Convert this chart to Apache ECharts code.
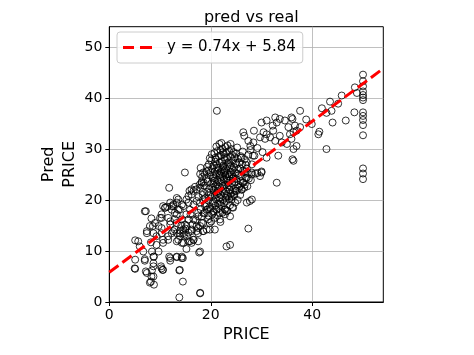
<!DOCTYPE html>
<html>
<head>
<meta charset="utf-8">
<script src="https://cdn.jsdelivr.net/npm/echarts@6/dist/echarts.min.js"></script>
<style>
html,body{margin:0;padding:0;background:#fff;}
#chart{width:474px;height:355px;}
</style>
</head>
<body>
<div id="chart"></div>
<script>
// ---- data (real PRICE, predicted PRICE) ----
const xTicks = [0, 20, 40];
const yTicks = [0, 10, 20, 30, 40, 50];
const slope = 0.74;
const intercept = 5.84;
const axisMax = 54;

const cappedPoints = [[50,44.6],[50,43.3],[50,42.3],[50,41.3],[50,40.6],[50,40.1],[50,39.6],[50,37.2],[50,36.5],[50,35.7],[50,34.7],[50,32.7],[50,26.2],[50,25.2],[50,24.1]];

const upperPoints = [[48.4,42.1],[48.8,41.0],[48.3,37.2],[46.6,35.6],[45.8,40.5],[45.1,38.9],[43.8,37.5],[43.5,39.3],[44.0,35.2],[42.8,37.1],[41.9,38.0],[41.2,32.9],[41.4,33.4],[42.8,30.0],[39.9,34.9],[38.8,35.8],[37.6,37.5],[37.6,34.3],[36.1,35.9],[36.6,34.6],[36.9,33.6],[35.9,36.2],[35.3,34.3],[34.6,35.6],[35.6,32.9],[33.6,35.9],[33.0,35.2],[32.7,36.2],[32.2,34.6],[32.3,33.6],[31.0,35.6],[30.0,35.2],[31.0,32.9],[30.4,33.3],[33.6,32.6],[36.3,33.3],[36.9,30.6],[36.3,30.0],[36.1,28.0],[36.3,27.7],[35.9,32.0],[35.0,31.0],[34.0,31.3],[32.7,31.6],[31.7,32.3],[30.7,32.0],[29.7,32.3],[28.5,33.6],[26.4,33.3],[26.6,32.6],[27.4,31.6],[28.4,31.3],[33.3,28.7],[31.0,28.3],[30.0,25.4],[29.7,24.7],[33.0,23.4],[28.6,28.7],[28.3,28.7],[27.1,27.4],[28.1,25.0],[28.8,25.2],[29.2,30.2],[27.8,30.6],[30.2,29.4]];

const blobPoints = [
[18.8,17.5],[19.2,19.0],[18.9,20.3],[19.3,21.6],[18.7,22.8],[19.1,24.1],[18.8,25.0],[19.3,26.5],[19.4,18.2],[18.6,23.4],[18.4,21.0],[18.3,24.5],[17.8,23.0],[18.0,26.3],
[19.6,16.9],[19.8,18.6],[19.5,19.9],[19.9,21.0],[19.7,22.2],[19.4,23.6],[19.9,24.9],[19.6,27.0],[19.8,28.2],[19.5,25.8],
[20.1,15.8],[20.3,17.2],[20.0,18.3],[20.4,19.4],[20.2,20.6],[19.9,21.5],[20.3,22.4],[20.1,23.2],[20.4,24.3],[20.0,25.4],[20.3,26.2],[20.1,27.8],[20.2,29.0],
[20.8,16.5],[20.6,17.8],[20.9,18.9],[20.5,19.8],[20.8,20.9],[20.6,21.9],[20.9,22.7],[20.7,23.8],[20.5,24.7],[20.8,25.6],[20.6,26.8],[20.9,28.3],[20.7,29.2],[20.9,27.5],[20.5,23.3],
[21.3,17.0],[21.1,18.1],[21.4,19.3],[21.0,20.2],[21.2,21.1],[21.4,22.3],[21.1,23.1],[21.3,24.0],[21.0,24.9],[21.4,25.9],[21.2,27.0],[21.0,28.0],[21.3,29.6],[21.1,30.5],[21.2,26.4],[21.4,21.7],
[21.8,16.2],[21.6,18.4],[21.9,19.6],[21.7,20.5],[21.5,21.4],[21.8,22.6],[21.6,23.5],[21.9,24.4],[21.7,25.2],[21.5,26.3],[21.8,27.3],[21.6,28.6],[21.9,29.8],[21.7,31.0],[21.8,24.9],
[22.3,17.5],[22.1,18.9],[22.4,20.0],[22.0,21.0],[22.2,21.8],[22.4,22.8],[22.1,23.7],[22.3,24.6],[22.0,25.5],[22.4,26.5],[22.2,27.6],[22.0,28.8],[22.3,30.1],[22.1,31.2],[22.2,26.0],[22.4,29.4],
[22.8,18.2],[22.6,19.4],[22.9,20.4],[22.7,21.3],[22.5,22.2],[22.8,23.0],[22.6,24.0],[22.9,24.9],[22.7,25.8],[22.5,26.8],[22.8,27.9],[22.6,29.0],[22.9,30.4],[22.7,28.4],[22.6,25.3],
[23.3,17.9],[23.1,19.8],[23.4,20.8],[23.0,21.7],[23.2,22.5],[23.4,23.4],[23.1,24.3],[23.3,25.1],[23.0,26.1],[23.4,27.1],[23.2,28.2],[23.0,29.3],[23.3,30.7],[23.2,26.6],[23.1,23.9],
[23.8,19.0],[23.6,20.2],[23.9,21.2],[23.7,22.0],[23.5,22.9],[23.8,23.8],[23.6,24.6],[23.9,25.5],[23.7,26.5],[23.5,27.4],[23.8,28.5],[23.6,29.6],[23.9,31.0],[23.7,25.0],
[24.3,18.6],[24.1,20.7],[24.4,21.6],[24.0,22.6],[24.2,23.3],[24.4,24.2],[24.1,25.0],[24.3,25.9],[24.0,26.8],[24.4,27.8],[24.2,28.9],[24.0,30.0],
[24.8,19.5],[24.6,21.1],[24.9,22.3],[24.7,23.5],[24.5,24.5],[24.8,25.4],[24.6,26.4],[24.9,27.3],[24.7,28.4],[24.5,29.4],
[25.3,20.0],[25.1,21.8],[25.4,23.0],[25.0,24.1],[25.2,25.2],[25.4,26.0],[25.1,27.0],[25.3,28.1],[25.0,29.1],[25.2,30.3],
[25.8,21.0],[25.6,22.5],[25.9,23.7],[25.5,24.9],[25.8,26.2],[25.6,27.4],[25.9,28.6],
[26.1,22.0],[26.3,23.4],[26.0,24.6],[26.4,25.8],[26.2,27.0],[26.0,28.3],[26.3,29.5],
[26.7,23.0],[26.9,24.3],[26.6,25.5],[26.9,26.9],[26.7,28.0],
[27.2,22.7],[27.5,24.2],[27.3,25.3],[27.1,26.2],[27.4,28.9],
[27.9,23.9],[28.1,27.0],[27.8,29.8]
];

const lowerPoints = [
[7.2,17.8],[10.3,17.2],[10.3,16.5],[12.3,18.8],[11.0,18.5],[8.6,14.9],[10.3,14.5],[12.0,15.2],[12.9,16.2],[13.3,17.2],[13.6,18.1],[14.3,19.1],
[7.4,13.5],[9.3,12.9],[11.6,12.9],[10.6,11.6],[9.3,11.2],[8.2,11.7],[5.7,11.9],[12.6,13.9],[13.3,13.5],[13.9,12.9],[14.6,13.5],[15.3,12.9],
[16.2,13.9],[17.2,13.9],[17.9,14.9],[14.9,15.2],[15.6,16.2],[16.6,16.2],[17.5,16.8],[13.3,11.9],[14.3,11.6],[15.6,11.9],[16.6,12.2],[17.5,11.9],
[16.2,11.6],[17.9,9.9],[14.3,8.9],[13.3,8.8],[12.0,8.6],[12.0,8.1],[10.3,6.6],[10.6,6.3],[8.7,8.9],[8.4,9.9],[9.7,9.9],[6.7,9.9],[7.0,8.1],
[5.1,8.3],[8.7,7.6],[8.4,6.2],[8.7,5.0],[8.2,4.0],[5.1,6.5],[7.2,6.0],[13.8,6.2],[14.5,4.0],[13.8,0.9],[17.9,1.7],[17.7,9.7],
[5.1,12.1],[6.0,10.9],[7.4,5.7],[8.3,5.0],[8.8,3.4],[13.9,6.3],[14.5,8.6],[7.0,17.8],[8.3,16.4],[11.0,18.5],
[10.6,18.8],[10.0,16.5],[12.0,19.5],[12.3,18.1],[13.3,20.4],[13.6,20.1],[12.6,18.8],[12.9,17.5],[13.9,18.1],[14.6,18.8],[11.6,16.5],[12.0,15.8],
[13.3,15.5],[14.3,16.2],[15.2,17.2],[15.9,18.1],[16.2,21.1],[16.6,21.8],[17.2,22.1],[17.9,22.4],[18.2,23.4],[15.2,20.1],[15.6,19.5],[16.6,19.1],
[17.2,19.8],[17.9,19.5],[18.5,20.1],[18.9,18.8],[17.5,17.5],[18.2,16.8],[19.2,18.1],[19.5,16.2],[18.5,15.5],[17.2,14.9],[16.2,14.2],[15.2,14.9],
[14.6,14.2],[13.9,13.5],[12.9,14.2],[12.3,13.5],[11.6,12.2],[13.6,12.2],[14.6,11.6],[15.9,11.9],[16.6,12.2],[17.5,13.5],[18.5,13.9],[19.2,14.2],
[10.3,13.5],[10.6,12.2],[8.7,13.5],[9.7,14.9],[7.4,13.9],[8.0,14.9],[9.0,15.5],
[15.8,21.8],[16.2,22.1],[16.9,22.6],[15.6,20.8],[13.3,19.5],[12.6,19.1],[11.4,18.7],[17.9,25.1],[18.5,25.4],[19.2,25.6],[18.2,23.6],
[14.0,14.0],[14.8,13.2],[15.0,14.4],[14.2,15.0],[15.6,13.6],[16.4,15.2],[17.0,16.0],[16.0,17.2],[18.0,18.2],[18.6,17.4],[17.6,20.6],[18.4,21.6],
[19.8,15.5],[20.8,14.2],[20.5,17.5],[21.8,17.5],[21.8,19.1],[22.8,18.1],[23.8,16.8],[24.4,18.5],[24.1,20.1],[23.1,20.8],[24.8,21.8],[25.8,22.7],
[26.4,23.4],[27.1,24.4],[28.1,25.4],[30.0,25.6],[29.2,25.3]
];

const outlierPoints = [[21.2,37.5],[14.9,25.4],[11.8,22.4],[23.1,10.9],[23.8,11.2],[27.4,14.4],[27.1,19.5],[27.7,19.8],[28.1,20.1],[21.9,15.7],[22.8,17.2],[23.1,17.8],[24.6,20.9],[26.1,22.1],[26.6,22.4],[17.9,1.8],[19.8,14.2],[18.5,13.9],[17.5,14.5],[18.2,15.5],[11.8,8.9],[10.2,7.0],[10.5,6.3],[8.8,8.9],[8.7,7.0],[7.0,8.4],[5.0,6.6],[8.0,3.8],[13.3,8.9],[14.3,8.6],[15.2,10.4]];

const allPoints = cappedPoints.concat(upperPoints, blobPoints, lowerPoints, outlierPoints);
const fitName = 'y = ' + slope + 'x + ' + intercept;
const fitLine = [[0, intercept], [axisMax, +(slope * axisMax + intercept).toFixed(3)]];

const FONT = 'DejaVu Sans';
const chart = echarts.init(document.getElementById('chart'), null, {renderer: 'canvas'});
chart.setOption({
  animation: false,
  backgroundColor: '#fff',
  title: {
    text: 'pred vs real',
    left: 246.3, top: 5, textAlign: 'center',
    textStyle: {fontFamily: FONT, fontSize: 16, fontWeight: 'normal', color: '#000'}
  },
  legend: {
    data: [{name: fitName, icon: 'path://M0,0H11V3H0Z M17,0H29V3H17Z'}],
    left: 117, top: 32,
    padding: [7, 7, 7, 6],
    itemWidth: 29, itemHeight: 3,
    backgroundColor: 'rgba(255,255,255,0.85)',
    borderColor: '#cccccc', borderWidth: 1, borderRadius: 3,
    textStyle: {fontFamily: FONT, fontSize: 15, color: '#000', lineHeight: 17, padding: [0, 0, 0, 10]}
  },
  grid: {
    left: 109.3, right: 90.7, top: 26.7, bottom: 53,
    show: true, borderColor: '#000', borderWidth: 1, backgroundColor: 'transparent'
  },
  xAxis: {
    type: 'value', min: 0, max: axisMax, interval: 20,
    name: 'PRICE', nameLocation: 'middle', nameGap: 23,
    nameTextStyle: {fontFamily: FONT, fontSize: 16, color: '#000'},
    axisLine: {show: true, lineStyle: {color: '#000', width: 1}},
    axisTick: {show: true, length: 4, customValues: xTicks, lineStyle: {color: '#000'}},
    axisLabel: {customValues: xTicks, margin: 6, fontFamily: FONT, fontSize: 14, color: '#000'},
    splitLine: {show: true, lineStyle: {color: '#b0b0b0', width: 0.8}}
  },
  yAxis: {
    type: 'value', min: 0, max: axisMax, interval: 10,
    name: 'Pred\nPRICE', nameLocation: 'middle', nameGap: 29, nameRotate: 90,
    nameMoveOverlap: false,
    nameTextStyle: {fontFamily: FONT, fontSize: 16, color: '#000', lineHeight: 21},
    axisLine: {show: true, lineStyle: {color: '#000', width: 1}},
    axisTick: {show: true, length: 4, customValues: yTicks, lineStyle: {color: '#000'}},
    axisLabel: {customValues: yTicks, margin: 7, fontFamily: FONT, fontSize: 14, color: '#000'},
    splitLine: {show: true, lineStyle: {color: '#b0b0b0', width: 0.8}}
  },
  series: [
    {
      name: 'points', type: 'scatter', data: allPoints, z: 2,
      symbol: 'circle', symbolSize: 7,
      itemStyle: {color: 'rgba(0,0,0,0)', borderColor: '#000', borderWidth: 1},
      emphasis: {disabled: true}, silent: true
    },
    {
      name: fitName, type: 'line', data: fitLine, z: 5,
      symbol: 'none', clip: true,
      lineStyle: {color: '#ff0000', width: 3, type: [11.4, 4.9]},
      itemStyle: {color: '#ff0000'},
      emphasis: {disabled: true}, silent: true
    }
  ]
});
</script>
</body>
</html>
